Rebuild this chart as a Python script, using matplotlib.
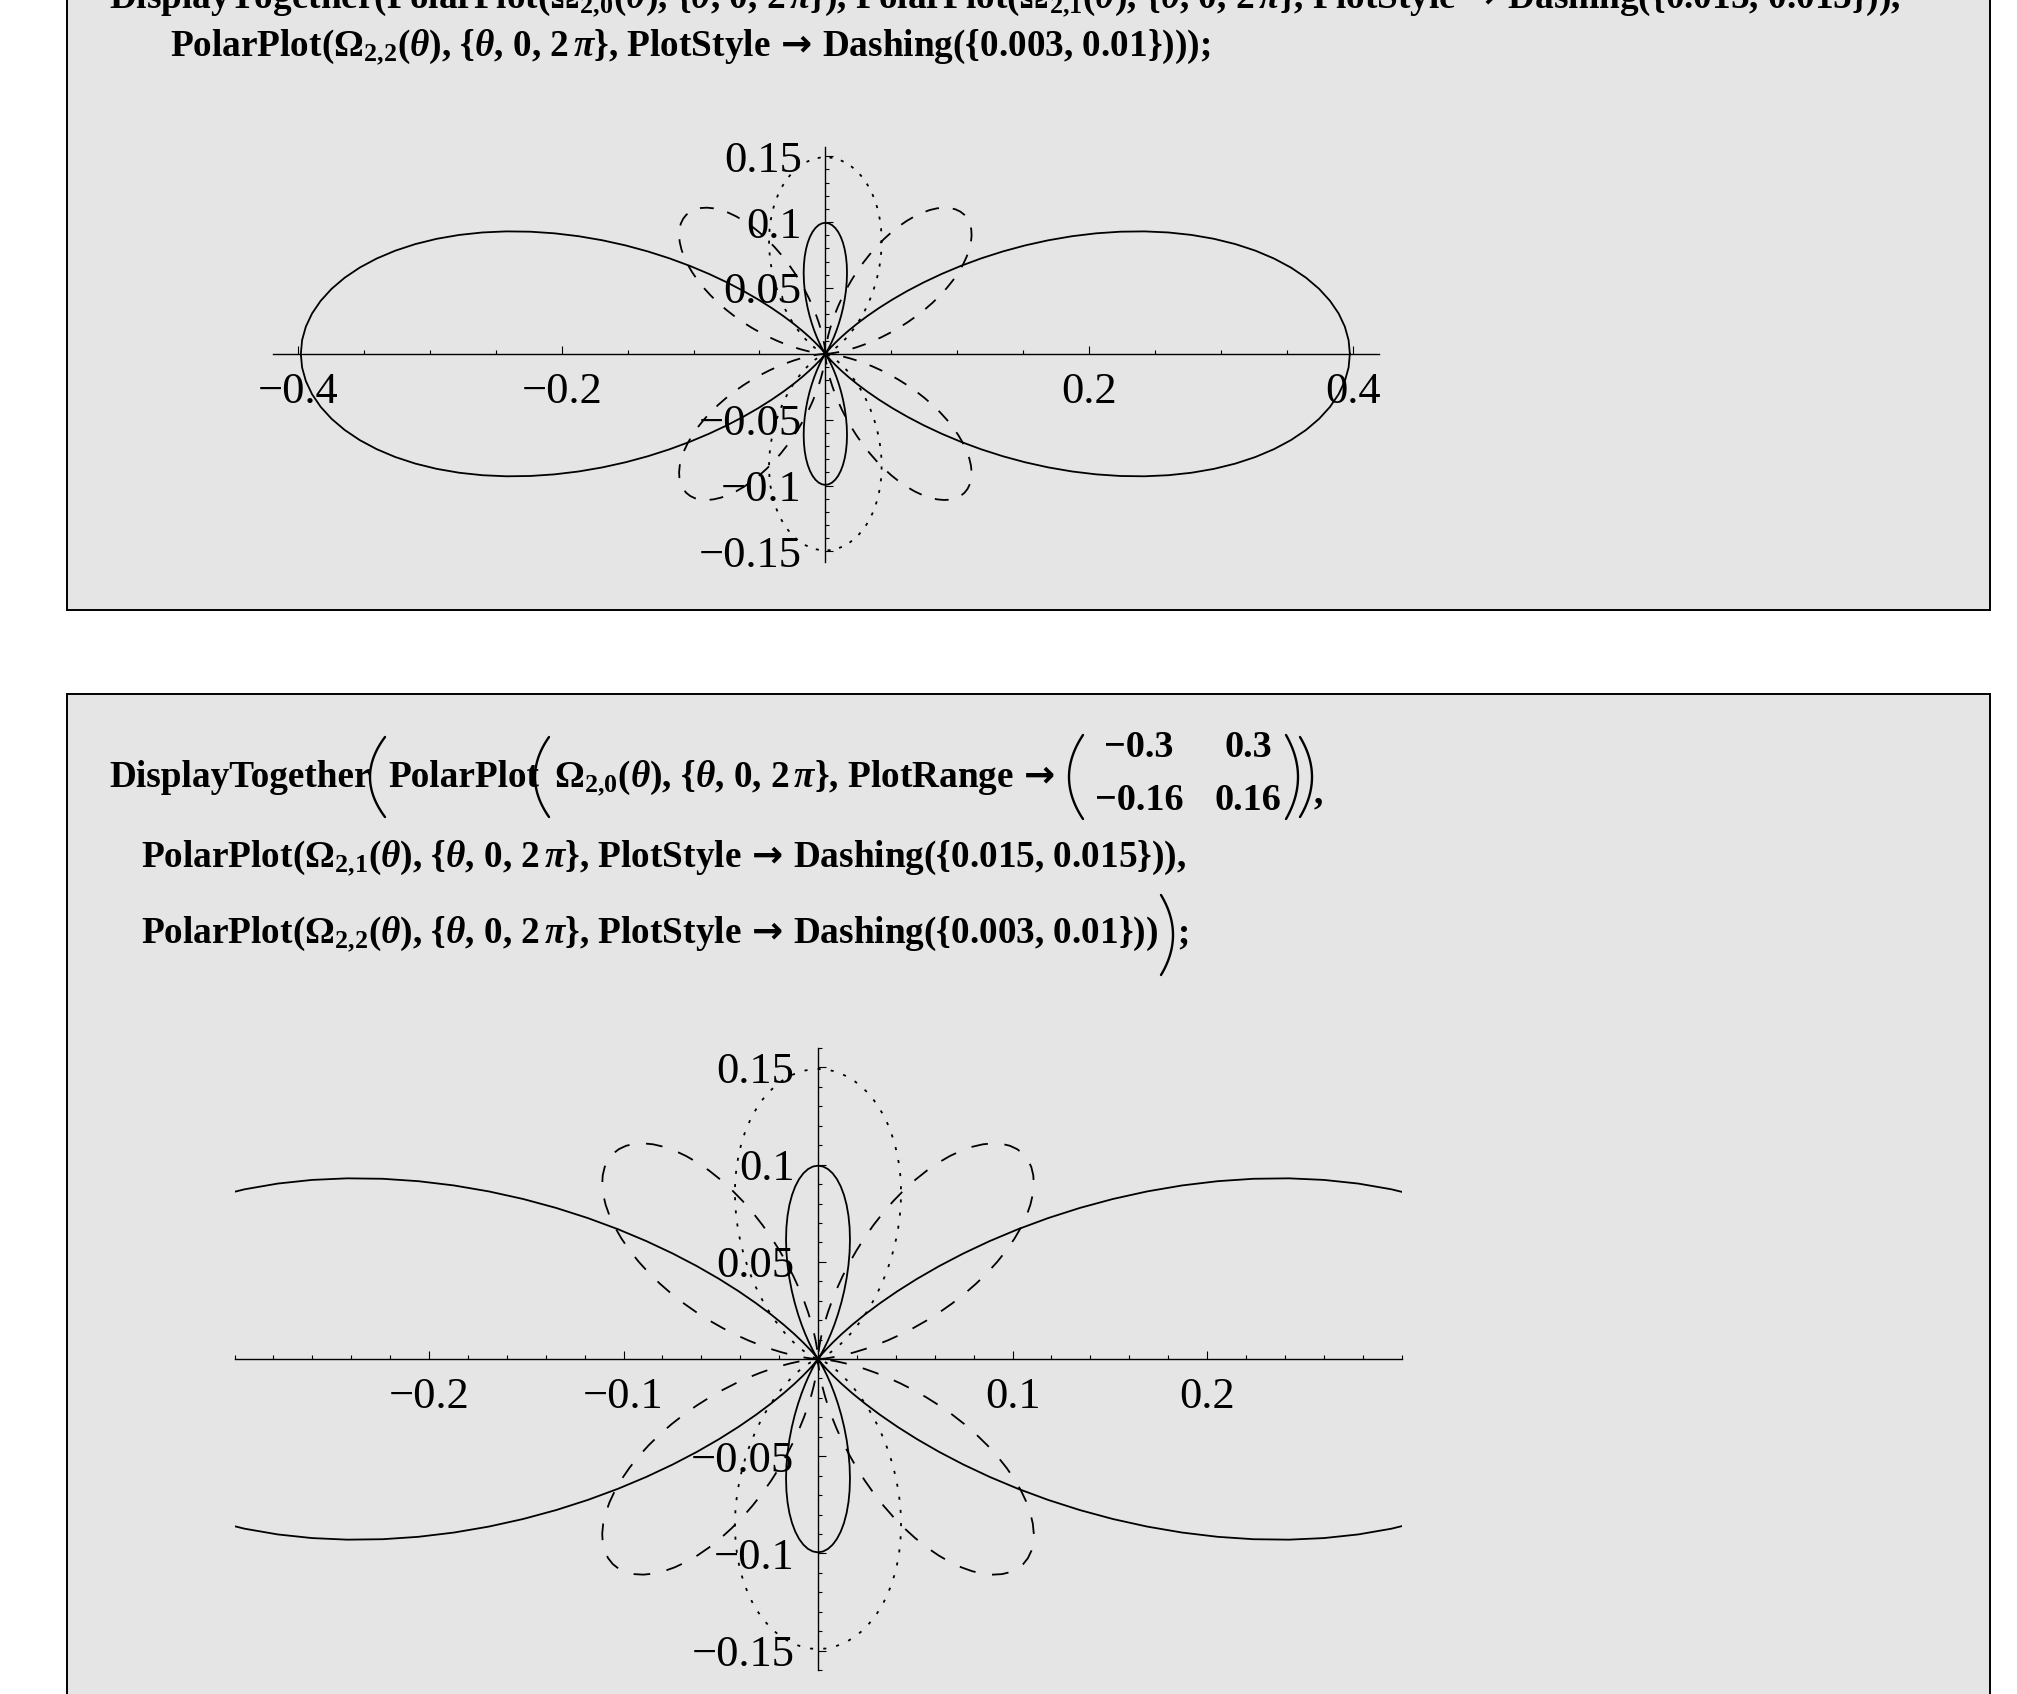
import numpy as np
import matplotlib
matplotlib.use("Agg")
import matplotlib.pyplot as plt
from matplotlib.patches import Rectangle
from matplotlib.ticker import FixedLocator, FixedFormatter

# the three curves: Omega_{2,m}(theta) = |Y_2m(theta)|^2, m = 0, 1, 2
orders_m = [0, 1, 2]
curve_styles = ['solid', 'dashed', 'dotted']
theta = np.linspace(0, 2 * np.pi, 241)


def omega(m, t):
    c, s = np.cos(t), np.sin(t)
    if m == 0:
        return 5 / (16 * np.pi) * (3 * c**2 - 1)**2
    if m == 1:
        return 15 / (8 * np.pi) * s**2 * c**2
    return 15 / (32 * np.pi) * s**4


# ticks and ranges
top_xrange = (-0.419, 0.42)
top_yrange = (-0.158, 0.157)
top_xticks = [-0.4, -0.2, 0.2, 0.4]
top_xlabels = ['\u22120.4', '\u22120.2', '0.2', '0.4']
top_xminor = [i * 0.05 for i in range(-8, 9)]

bot_xrange = (-0.3, 0.3)
bot_yrange = (-0.16, 0.16)
bot_xticks = [-0.2, -0.1, 0.1, 0.2]
bot_xlabels = ['\u22120.2', '\u22120.1', '0.1', '0.2']
bot_xminor = [i * 0.02 for i in range(-15, 16)]

yticks = [-0.15, -0.1, -0.05, 0.05, 0.1, 0.15]
ylabels = ['\u22120.15', '\u22120.1', '\u22120.05', '0.05', '0.1', '0.15']
yminor = [i * 0.01 for i in range(-16, 17)]

# notebook input lines
arrow = r'$\,\mathsf{\rightarrow}\,$'
rng = r'{$\theta$, 0, 2$\,\pi$}'


def om(m):
    return '$\\Omega_{2{,}%d}(\\theta)$' % m


cell1_line1 = ('DisplayTogether(PolarPlot(' + om(0) + ', ' + rng + '), PolarPlot(' + om(1) + ', '
               + rng + ', PlotStyle' + arrow + 'Dashing({0.015, 0.015})),')
cell1_line2 = 'PolarPlot(' + om(2) + ', ' + rng + ', PlotStyle' + arrow + 'Dashing({0.003, 0.01})));'
cell2_a = 'DisplayTogether'
cell2_b = 'PolarPlot'
cell2_c = om(0) + ', ' + rng + ', PlotRange' + arrow
matrix_vals = [['\u22120.3', '0.3'], ['\u22120.16', '0.16']]
cell2_line2 = 'PolarPlot(' + om(1) + ', ' + rng + ', PlotStyle' + arrow + 'Dashing({0.015, 0.015})),'
cell2_line3 = 'PolarPlot(' + om(2) + ', ' + rng + ', PlotStyle' + arrow + 'Dashing({0.003, 0.01}))'

plt.rcParams['mathtext.fontset'] = 'custom'
plt.rcParams['mathtext.rm'] = 'Liberation Serif:bold'
plt.rcParams['mathtext.it'] = 'Liberation Serif:italic:bold'
plt.rcParams['mathtext.bf'] = 'Liberation Serif:bold'
plt.rcParams['mathtext.sf'] = 'DejaVu Sans:bold'
plt.rcParams['lines.scale_dashes'] = False

W, H = 2017, 1694
fig = plt.figure(figsize=(W / 100, H / 100), dpi=100, facecolor='white')
bg = fig.add_axes([0, 0, 1, 1])
bg.set_xlim(0, W)
bg.set_ylim(H, 0)
bg.axis('off')

cell_grey = '#e5e5e5'
bg.add_patch(Rectangle((67, -60), 1990 - 67, 610 + 60, facecolor=cell_grey, edgecolor='black', lw=1.4))
bg.add_patch(Rectangle((67, 694), 1990 - 67, 1100, facecolor=cell_grey, edgecolor='black', lw=1.4))

code_font = dict(family=['Liberation Serif', 'DejaVu Serif'], weight='bold', fontsize=26.8, color='black')


def code(x, y, s, **kw):
    d = dict(code_font)
    d.update(kw)
    bg.text(x, y, s, ha=d.pop('ha', 'left'), va='baseline', **d)


def paren(x0, x1, y0, y1, opening=True):
    t = np.linspace(-1, 1, 50)
    y = (y0 + y1) / 2 + t * (y1 - y0) / 2
    b = 1 - t**2
    x = x1 - (x1 - x0) * b if opening else x0 + (x1 - x0) * b
    bg.plot(x, y, color='black', lw=1.7, solid_capstyle='round')


code(109, 8, cell1_line1)
code(170, 56, cell1_line2)

code(109, 787, cell2_a)
paren(370, 385, 737, 817)
code(388, 787, cell2_b)
paren(535, 549, 737, 817)
code(554, 787, cell2_c)
paren(1069, 1083, 735, 819)
for row, yb in zip(matrix_vals, [757, 810]):
    code(1139, yb, row[0], ha='center', fontsize=27.5)
    code(1248, yb, row[1], ha='center', fontsize=27.5)
paren(1286, 1298, 735, 819, opening=False)
paren(1300, 1312, 737, 817, opening=False)
code(1314, 803, ',')
code(141, 867, cell2_line2)
code(141, 943, cell2_line3)
paren(1161, 1173, 895, 975, opening=False)
code(1177, 943, ';')


def polar_axes(rect_px, xr, yr, xt, xl, xmin, dash, dot):
    l, t, r, b = rect_px
    ax = fig.add_axes([l / W, 1 - b / H, (r - l) / W, (b - t) / H])
    ax.patch.set_alpha(0)
    for m, st in zip(orders_m, curve_styles):
        rr = omega(m, theta)
        line, = ax.plot(rr * np.cos(theta), rr * np.sin(theta), color='black', lw=1.3)
        if st == 'dashed':
            line.set_dashes(dash)
        elif st == 'dotted':
            line.set_dashes(dot)
    ax.set_xlim(*xr)
    ax.set_ylim(*yr)
    for s in ['top', 'right']:
        ax.spines[s].set_visible(False)
    for s in ['left', 'bottom']:
        ax.spines[s].set_position(('data', 0))
        ax.spines[s].set_linewidth(1.0)
    ax.xaxis.set_major_locator(FixedLocator(xt))
    ax.xaxis.set_major_formatter(FixedFormatter(xl))
    ax.xaxis.set_minor_locator(FixedLocator(xmin))
    ax.yaxis.set_major_locator(FixedLocator(yticks))
    ax.yaxis.set_major_formatter(FixedFormatter(ylabels))
    ax.yaxis.set_minor_locator(FixedLocator(yminor))
    ax.tick_params(which='both', direction='in', width=0.8, colors='black')
    ax.tick_params(which='major', length=5.5)
    ax.tick_params(which='minor', length=3)
    ax.tick_params(axis='x', which='major', pad=13)
    ax.tick_params(axis='y', which='major', pad=17)
    for lab in ax.get_xticklabels() + ax.get_yticklabels():
        lab.set_fontfamily(['Liberation Serif', 'DejaVu Serif'])
        lab.set_fontsize(32)
    return ax


polar_axes((273, 147, 1379, 562), top_xrange, top_yrange, top_xticks, top_xlabels, top_xminor,
           (10, 10), (2.2, 6.3))
polar_axes((234.5, 1048, 1401.5, 1670), bot_xrange, bot_yrange, bot_xticks, bot_xlabels, bot_xminor,
           (12, 12), (2.2, 7.3))

fig.savefig('out.png', dpi=100, facecolor='white')
